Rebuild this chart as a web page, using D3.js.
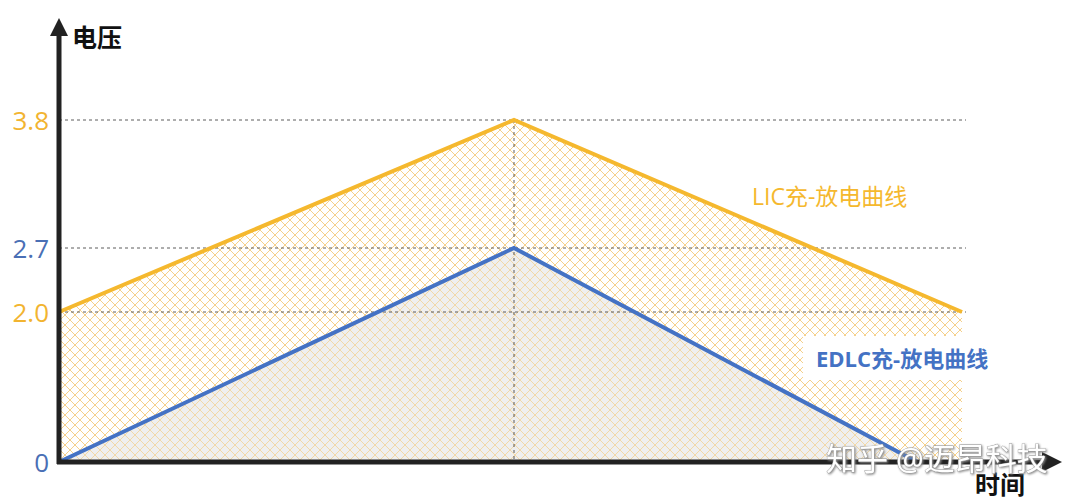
<!DOCTYPE html>
<html><head><meta charset="utf-8">
<script src="https://cdn.jsdelivr.net/npm/d3@7"></script>
<style>body{margin:0;background:#fff}text{font-family:"Open Sans","Noto Sans CJK SC",sans-serif}</style>
</head><body><svg id="c" width="1092" height="500"></svg>
<script>
const times = [0, 1, 2];
const lic = [2.0, 3.8, 2.0];
const edlcTimes = [0, 1, 1.9]; // EDLC returns to 0 a bit before the end
const edlc = [0, 2.7, 0];
const yTicks = [0, 2.0, 2.7, 3.8];
const tickColors = ["#4a6fb5", "#f2b430", "#4a6fb5", "#f2b430"];

const svg = d3.select("#c");
const x = d3.scaleLinear().domain([0, 1, 2]).range([59, 514, 962]);
const y = d3.scaleLinear().domain([0, 2.0, 2.7, 3.8]).range([462, 312, 248, 120]);

const defs = svg.append("defs");
const pat = defs.append("pattern").attr("id", "hatch").attr("patternUnits", "userSpaceOnUse")
  .attr("width", 10).attr("height", 10);
pat.append("path").attr("d", "M0,0L10,10M10,0L0,10").attr("stroke", "#f5d08a").attr("stroke-width", 1);

const licPts = times.map((t, i) => [x(t), y(lic[i])]);
const edPts = edlcTimes.map((t, i) => [x(t), y(edlc[i])]);

svg.append("path").attr("d", d3.line()([[x(0), y(0)], ...licPts, [x(2), y(0)]]))
  .attr("fill", "url(#hatch)");
svg.append("path").attr("d", d3.line()(edPts)).attr("fill", "#e6e6e6").attr("opacity", 0.65);
svg.append("path").attr("d", d3.line()(edPts)).attr("fill", "url(#hatch)").attr("opacity", 0.5);

yTicks.slice(1).forEach(v => {
  svg.append("line").attr("x1", x(0)).attr("x2", 966).attr("y1", y(v)).attr("y2", y(v))
    .attr("stroke", "#333").attr("stroke-dasharray", "3,3").attr("stroke-width", 0.8);
});
svg.append("line").attr("x1", x(1)).attr("x2", x(1)).attr("y1", y(3.8)).attr("y2", y(0))
  .attr("stroke", "#333").attr("stroke-dasharray", "3,3").attr("stroke-width", 0.8);

svg.append("path").attr("d", d3.line()(licPts)).attr("fill", "none").attr("stroke", "#f5b82e").attr("stroke-width", 4);
svg.append("path").attr("d", d3.line()(edPts)).attr("fill", "none").attr("stroke", "#4472c4").attr("stroke-width", 4);

svg.append("line").attr("x1", 59).attr("x2", 59).attr("y1", 464).attr("y2", 32).attr("stroke", "#222").attr("stroke-width", 5);
svg.append("path").attr("d", "M50,36L59,18L68,36Z").attr("fill", "#222");
svg.append("line").attr("x1", 57).attr("x2", 1046).attr("y1", 462).attr("y2", 462).attr("stroke", "#222").attr("stroke-width", 5);
svg.append("path").attr("d", "M1042,452L1062,462L1042,472Z").attr("fill", "#222");

yTicks.forEach((v, i) => {
  svg.append("text").attr("x", 49).attr("y", y(v) + 10).attr("text-anchor", "end")
    .attr("font-size", 26).attr("fill", tickColors[i]).text(v === 0 ? "0" : v.toFixed(1));
});
svg.append("text").attr("x", 72).attr("y", 47).attr("font-size", 25).attr("font-weight", "bold").attr("fill", "#111").text("电压");
svg.append("text").attr("x", 975).attr("y", 494).attr("font-size", 25).attr("font-weight", "bold").attr("fill", "#111").text("时间");

svg.append("rect").attr("x", 745).attr("y", 178).attr("width", 180).attr("height", 36).attr("fill", "#fff");
svg.append("text").attr("x", 752).attr("y", 205).attr("font-size", 23).attr("fill", "#f5b82e").text("LIC充-放电曲线");
svg.append("rect").attr("x", 803).attr("y", 336).attr("width", 210).attr("height", 44).attr("fill", "#fff");
svg.append("text").attr("x", 816).attr("y", 367).attr("font-size", 22).attr("font-weight", "bold").attr("fill", "#4472c4").text("EDLC充-放电曲线");

svg.append("text").attr("x", 826).attr("y", 470).attr("font-size", 31).attr("fill", "#fff")
  .attr("stroke", "#999").attr("stroke-width", 0.8).attr("paint-order", "stroke").style("filter", "drop-shadow(1px 1px 1px #888)")
  .text("知乎 @迈昂科技");
</script></body></html>
